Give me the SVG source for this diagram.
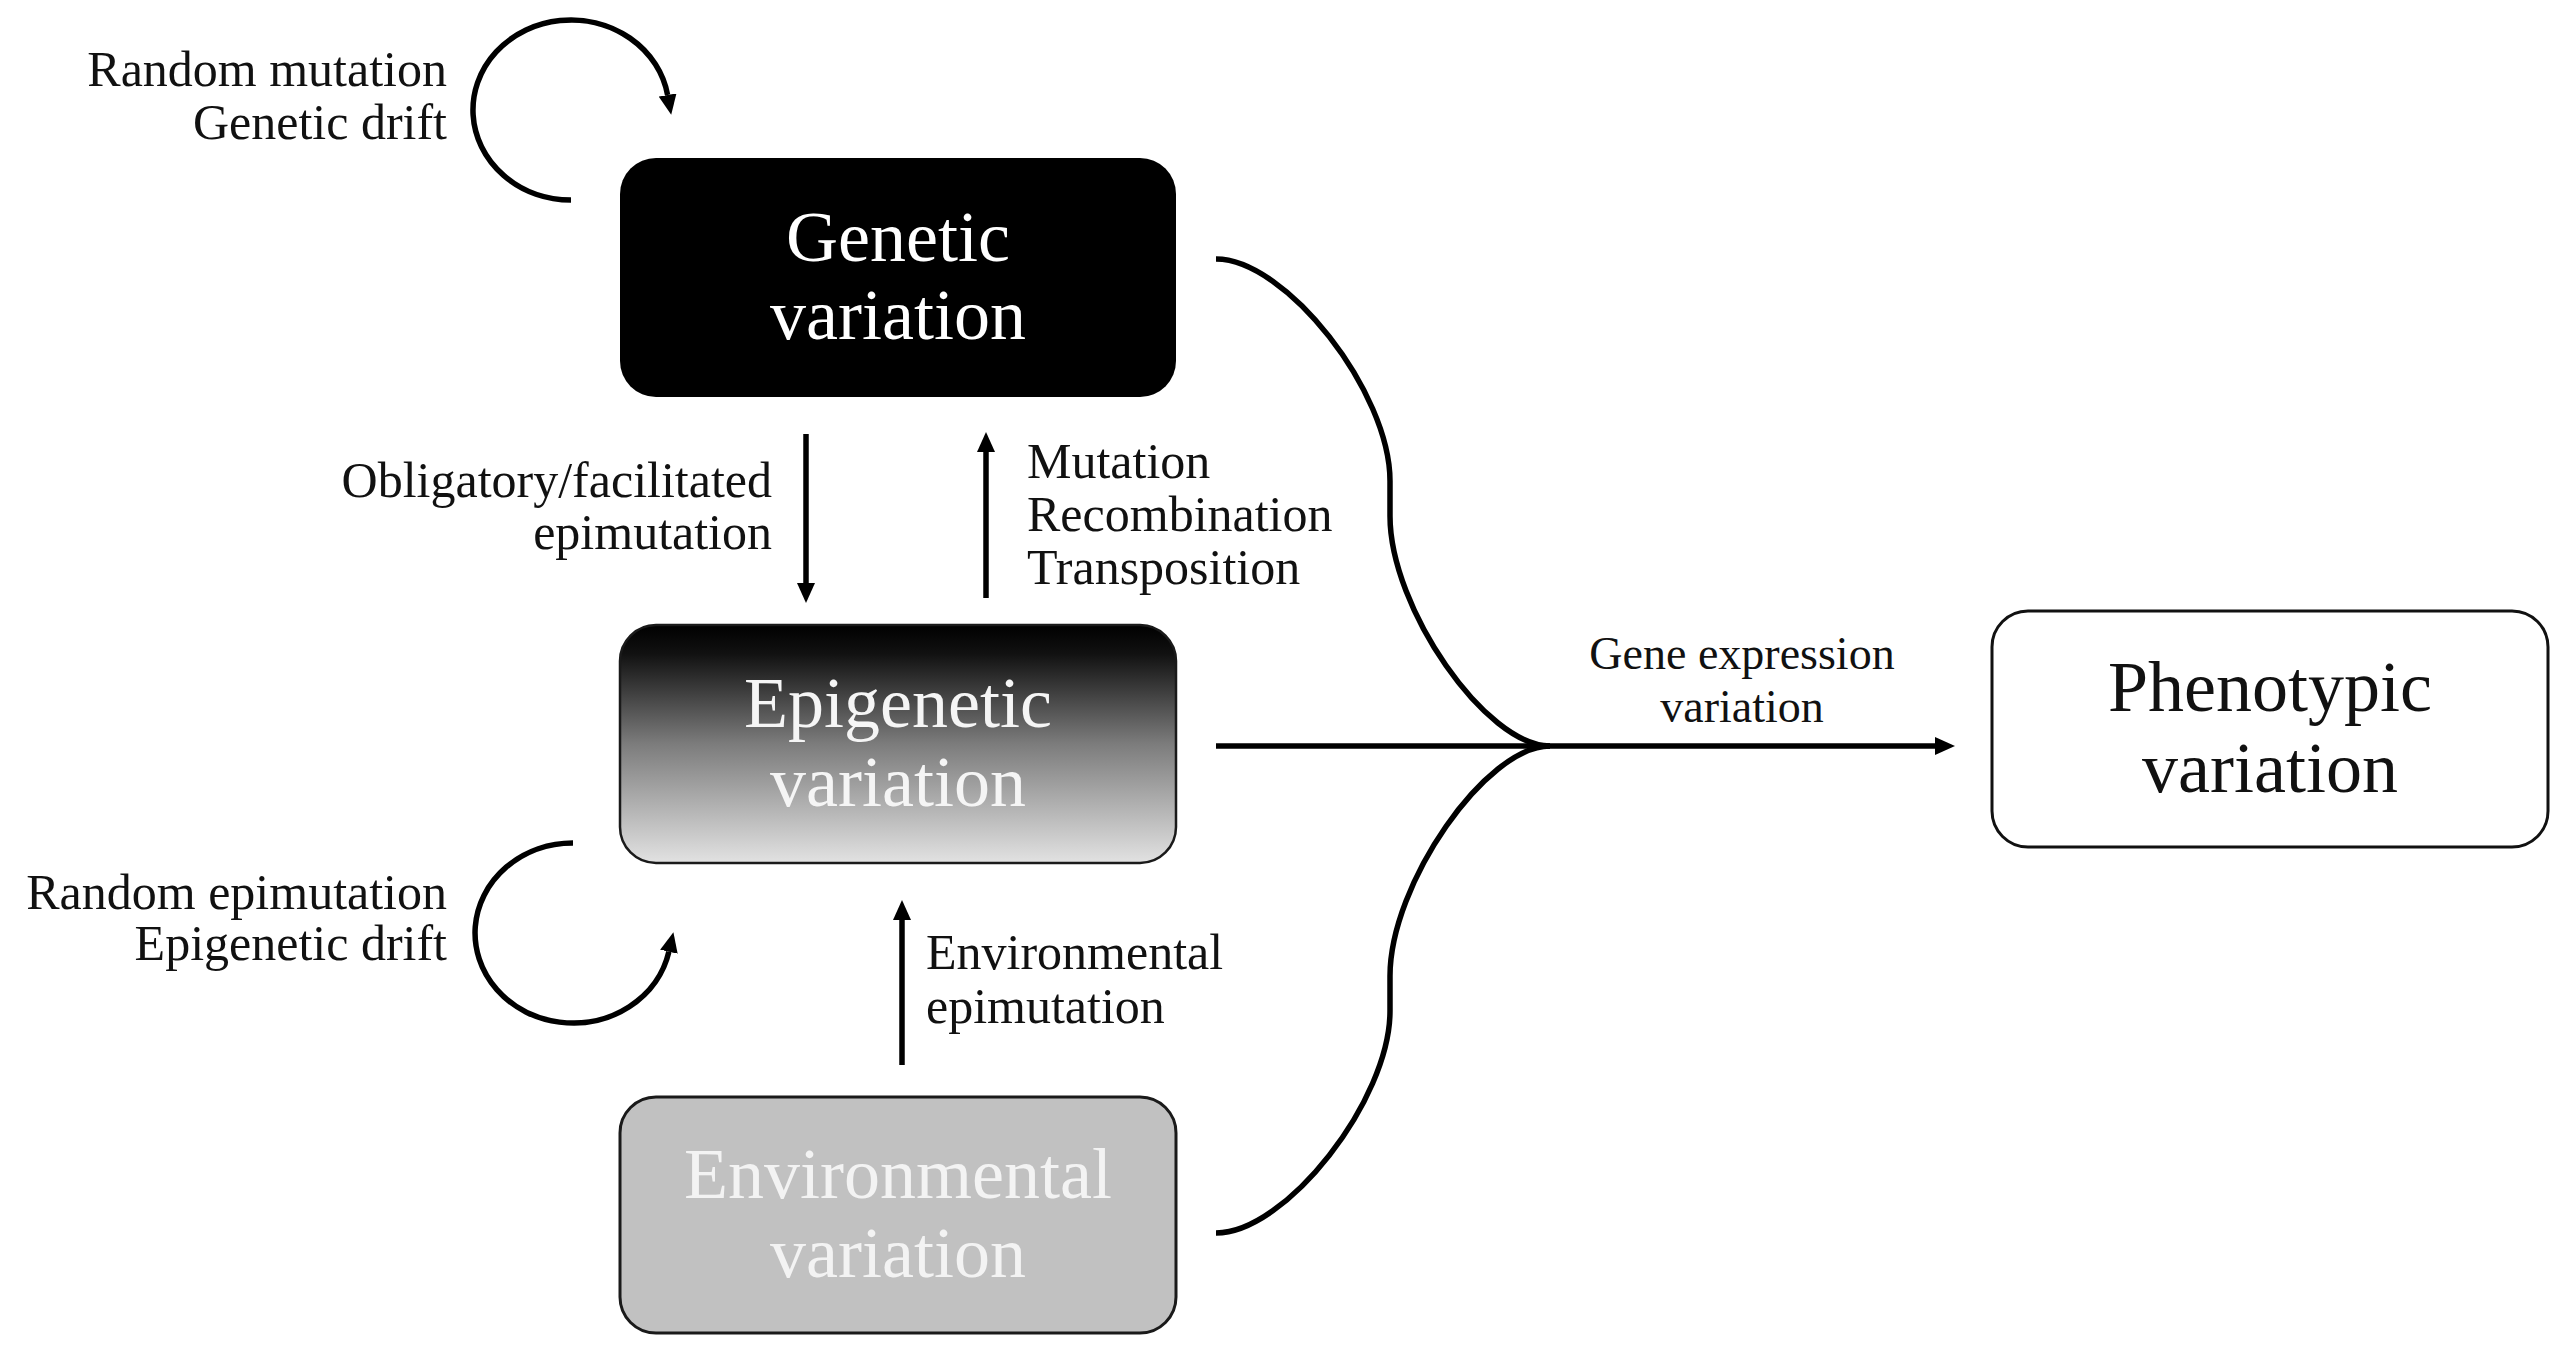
<svg xmlns="http://www.w3.org/2000/svg" width="2560" height="1359" viewBox="0 0 2560 1359">
<defs>
<linearGradient id="epiGrad" x1="0" y1="0" x2="0" y2="1">
<stop offset="0" stop-color="#000000"/>
<stop offset="0.12" stop-color="#111111"/>
<stop offset="0.5" stop-color="#7c7c7c"/>
<stop offset="1" stop-color="#e2e2e2"/>
</linearGradient>
<marker id="ah" markerUnits="userSpaceOnUse" markerWidth="20" markerHeight="18" refX="0" refY="9" orient="auto">
<path d="M0,0 L20,9 L0,18 Z" fill="#000"/>
</marker>
</defs>
<style>
.lbl{font-family:"Liberation Serif","Times New Roman",serif;font-size:50px;fill:#111;}
.box{font-family:"Liberation Serif","Times New Roman",serif;font-size:72px;text-anchor:middle;}
.conn{fill:none;stroke:#000;stroke-width:5.5;}
</style>
<rect width="2560" height="1359" fill="#ffffff"/>

<g id="connectors">
<path class="conn" d="M571,200 A98,90 0 1 1 667.6,95" marker-end="url(#ah)"/>
<path class="conn" d="M573,843 A98,90 0 1 0 668.9,951.7" marker-end="url(#ah)"/>
<path class="conn" d="M806,434 L806,583" marker-end="url(#ah)"/>
<path class="conn" d="M986,598 L986,452" marker-end="url(#ah)"/>
<path class="conn" d="M902,1065 L902,920" marker-end="url(#ah)"/>
<path class="conn" d="M1216,259 C1286,259 1390,392 1390,481 L1390,516 C1390,608 1486,746 1550,746"/>
<path class="conn" d="M1216,1233 C1286,1233 1390,1100 1390,1011 L1390,976 C1390,884 1486,746 1550,746"/>
<path class="conn" d="M1216,746 L1935,746" marker-end="url(#ah)"/>
</g>

<g id="labels">
<text class="lbl" text-anchor="end" x="447" y="86">Random mutation</text>
<text class="lbl" text-anchor="end" x="447" y="139">Genetic drift</text>
<text class="lbl" text-anchor="end" x="772" y="497">Obligatory/facilitated</text>
<text class="lbl" text-anchor="end" x="772" y="549">epimutation</text>
<text class="lbl" x="1027" y="478">Mutation</text>
<text class="lbl" x="1027" y="531">Recombination</text>
<text class="lbl" x="1027" y="584">Transposition</text>
<text class="lbl" text-anchor="end" x="447" y="909">Random epimutation</text>
<text class="lbl" text-anchor="end" x="447" y="960">Epigenetic drift</text>
<text class="lbl" x="926" y="969">Environmental</text>
<text class="lbl" x="926" y="1023">epimutation</text>
<text class="lbl" text-anchor="middle" x="1742" y="669" style="font-size:46px">Gene expression</text>
<text class="lbl" text-anchor="middle" x="1742" y="722" style="font-size:46px">variation</text>
</g>

<g id="genetic">
<rect x="620" y="158" width="556" height="239" rx="36" ry="36" fill="#000"/>
<text class="box" x="898" y="261" fill="#ffffff">Genetic</text>
<text class="box" x="898" y="339" fill="#ffffff">variation</text>
</g>

<g id="epigenetic">
<rect x="620" y="625" width="556" height="238" rx="36" ry="36" fill="url(#epiGrad)" stroke="#1a1a1a" stroke-width="2.5"/>
<text class="box" x="898" y="727" fill="#f5f5f5">Epigenetic</text>
<text class="box" x="898" y="806" fill="#f5f5f5">variation</text>
</g>

<g id="environmental">
<rect x="620" y="1097" width="556" height="236" rx="36" ry="36" fill="#c1c1c1" stroke="#1a1a1a" stroke-width="3"/>
<text class="box" x="898" y="1198" fill="#f3f3f3">Environmental</text>
<text class="box" x="898" y="1277" fill="#f3f3f3">variation</text>
</g>

<g id="phenotypic">
<rect x="1992" y="611" width="556" height="236" rx="36" ry="36" fill="#ffffff" stroke="#111" stroke-width="3"/>
<text class="box" x="2270" y="711" fill="#111">Phenotypic</text>
<text class="box" x="2270" y="792" fill="#111">variation</text>
</g>
</svg>
